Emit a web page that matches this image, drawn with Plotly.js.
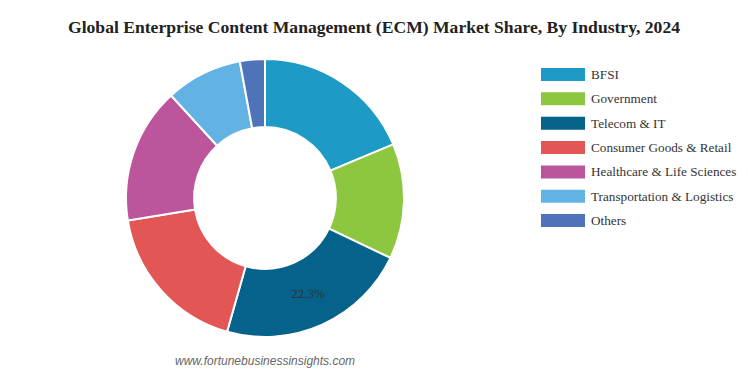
<!DOCTYPE html>
<html>
<head>
<meta charset="utf-8">
<script src="https://cdn.plot.ly/plotly-3.0.1.min.js"></script>
<style>html,body{margin:0;padding:0;background:#fff;}#chart{width:748px;height:374px;}</style>
</head>
<body>
<div id="chart"></div>
<script>
const categories = ["BFSI", "Government", "Telecom & IT", "Consumer Goods & Retail", "Healthcare & Life Sciences", "Transportation & Logistics", "Others"];
const shares = [18.7, 13.4, 22.3, 18.0, 15.8, 8.9, 2.9];
const colors = ["#1e9bc4", "#8dc63f", "#05628a", "#e35656", "#bc559c", "#62b3e4", "#4e73b8"];
const shownLabel = "Telecom & IT";

const W = 748, H = 374;
const cx = 265, cy = 198, r = 139;

const trace = {
  type: "pie",
  labels: categories,
  values: shares,
  marker: { colors: colors, line: { color: "#ffffff", width: 2 } },
  hole: 0.51,
  sort: false,
  direction: "clockwise",
  rotation: 0,
  textposition: "inside",
  insidetextorientation: "horizontal",
  texttemplate: categories.map(c => c === shownLabel ? "%{value}%" : ""),
  textfont: { family: "Liberation Serif, Times New Roman, serif", size: 13, color: "#333333" },
  showlegend: false,
  hoverinfo: "label+percent",
  domain: { x: [(cx - r) / W, (cx + r) / W], y: [1 - (cy + r) / H, 1 - (cy - r) / H] }
};

const shapes = [];
const annotations = [];
const legX0 = 541, legX1 = 585, legY0 = 74.5, legStep = 24.35, legH = 13;
categories.forEach((c, i) => {
  const yc = legY0 + i * legStep;
  shapes.push({
    type: "rect", xref: "paper", yref: "paper",
    x0: legX0 / W, x1: legX1 / W,
    y0: 1 - (yc + legH / 2) / H, y1: 1 - (yc - legH / 2) / H,
    fillcolor: colors[i], line: { width: 0 }
  });
  annotations.push({
    xref: "paper", yref: "paper", x: 589 / W, y: 1 - yc / H,
    xanchor: "left", yanchor: "middle", showarrow: false,
    text: c.replace(/&/g, "&amp;"),
    font: { family: "Liberation Serif, Times New Roman, serif", size: 13.2, color: "#333333" }
  });
});
annotations.push({
  xref: "paper", yref: "paper", x: 265 / W, y: 1 - 361 / H,
  xanchor: "center", yanchor: "middle", showarrow: false,
  text: "<i>www.fortunebusinessinsights.com</i>",
  font: { family: "Liberation Sans, Arial, sans-serif", size: 12, color: "#666666" }
});

const layout = {
  width: W, height: H,
  margin: { l: 0, r: 0, t: 0, b: 0 },
  paper_bgcolor: "#ffffff",
  title: {
    text: "<b>Global Enterprise Content Management (ECM) Market Share, By Industry, 2024</b>",
    x: 0.5, xanchor: "center", y: 1 - 27 / H, yanchor: "middle",
    font: { family: "Liberation Serif, Times New Roman, serif", size: 17.6, color: "#222222" }
  },
  shapes: shapes,
  annotations: annotations,
  showlegend: false
};

Plotly.newPlot("chart", [trace], layout, { displayModeBar: false, staticPlot: true });
</script>
</body>
</html>
